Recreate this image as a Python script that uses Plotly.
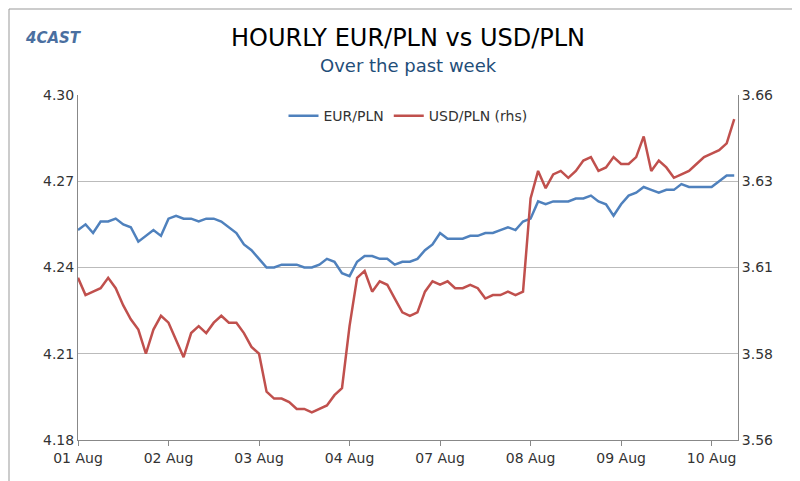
import plotly.graph_objects as go

day_labels = ["01 Aug","02 Aug","03 Aug","04 Aug","07 Aug","08 Aug","09 Aug","10 Aug"]
eur = [4.253,4.255,4.252,4.256,4.256,4.257,4.255,4.254,4.249,4.251,4.253,4.251,
       4.257,4.258,4.257,4.257,4.256,4.257,4.257,4.256,4.254,4.252,4.248,4.246,
       4.243,4.240,4.240,4.241,4.241,4.241,4.240,4.240,4.241,4.243,4.242,4.238,
       4.237,4.242,4.244,4.244,4.243,4.243,4.241,4.242,4.242,4.243,4.246,4.248,
       4.252,4.250,4.250,4.250,4.251,4.251,4.252,4.252,4.253,4.254,4.253,4.256,
       4.257,4.263,4.262,4.263,4.263,4.263,4.264,4.264,4.265,4.263,4.262,4.258,
       4.262,4.265,4.266,4.268,4.267,4.266,4.267,4.267,4.269,4.268,4.268,4.268,
       4.268,4.270,4.272,4.272]
usd = [3.607,3.602,3.603,3.604,3.607,3.604,3.599,3.595,3.592,3.585,3.592,3.596,
       3.594,3.589,3.584,3.591,3.593,3.591,3.594,3.596,3.594,3.594,3.591,3.587,
       3.585,3.574,3.572,3.572,3.571,3.569,3.569,3.568,3.569,3.570,3.573,3.575,
       3.593,3.607,3.609,3.603,3.606,3.605,3.601,3.597,3.596,3.597,3.603,3.606,
       3.605,3.606,3.604,3.604,3.605,3.604,3.601,3.602,3.602,3.603,3.602,3.603,
       3.630,3.638,3.633,3.637,3.638,3.636,3.638,3.641,3.642,3.638,3.639,3.642,
       3.640,3.640,3.642,3.648,3.638,3.641,3.639,3.636,3.637,3.638,3.640,3.642,
       3.643,3.644,3.646,3.653,3.652]
left_ticks = [4.18, 4.21, 4.24, 4.27, 4.30]
right_ticks = [3.56, 3.585, 3.61, 3.635, 3.66]
pts_per_day = 12
x = list(range(len(eur)))

W, H, L, R, T, B = 800, 481, 70, 70, 87, 49
pw, ph = W - L - R, H - T - B

fig = go.Figure()
fig.add_trace(go.Scatter(x=x, y=eur, name="EUR/PLN", mode="lines",
                         line=dict(color="#4F81BD", width=2.5)))
fig.add_trace(go.Scatter(x=x, y=usd, name="USD/PLN (rhs)", mode="lines", yaxis="y2",
                         line=dict(color="#C0504D", width=2.5)))
fig.update_layout(
    width=W, height=H, paper_bgcolor="white", plot_bgcolor="white",
    margin=dict(l=L, r=R, t=T, b=B),
    font=dict(family="DejaVu Sans", size=14, color="#333"),
    legend=dict(orientation="h", x=0.5, xanchor="center", y=0.985, yanchor="top",
                bgcolor="rgba(0,0,0,0)", font=dict(size=14)),
    xaxis=dict(range=[0, len(eur)-0.5], tickvals=[i*pts_per_day for i in range(len(day_labels))],
               ticktext=day_labels, showgrid=False, showline=True, linecolor="#888",
               ticks="outside", ticklen=5, tickcolor="#888"),
    yaxis=dict(range=[4.18, 4.30], tickvals=left_ticks, tickformat=".2f", gridcolor="#bbb",
               showline=True, linecolor="#888", zeroline=False),
    yaxis2=dict(range=[3.56, 3.66], tickvals=right_ticks, tickformat=".2f", overlaying="y",
                side="right", showgrid=False, showline=True, linecolor="#888", zeroline=False),
    shapes=[dict(type="rect", xref="paper", yref="paper", x0=-(L-1)/pw, x1=1+(R-1)/pw,
                 y0=-(B-1)/ph, y1=1+(T-1)/ph, line=dict(color="#999", width=1))],
    annotations=[
        dict(text="<i><b>4CAST</b></i>", xref="paper", yref="paper", x=-55/pw, y=1+57/ph,
             xanchor="left", yanchor="middle", showarrow=False, font=dict(size=15, color="#4a6fa0")),
        dict(text="HOURLY EUR/PLN vs USD/PLN", xref="paper", yref="paper", x=0.5, y=1+57/ph,
             xanchor="center", yanchor="middle", showarrow=False, font=dict(size=24, color="black")),
        dict(text="Over the past week", xref="paper", yref="paper", x=0.5, y=1+30/ph,
             xanchor="center", yanchor="middle", showarrow=False, font=dict(size=18, color="#1F4E79")),
    ],
)
fig.write_html("out.html")
